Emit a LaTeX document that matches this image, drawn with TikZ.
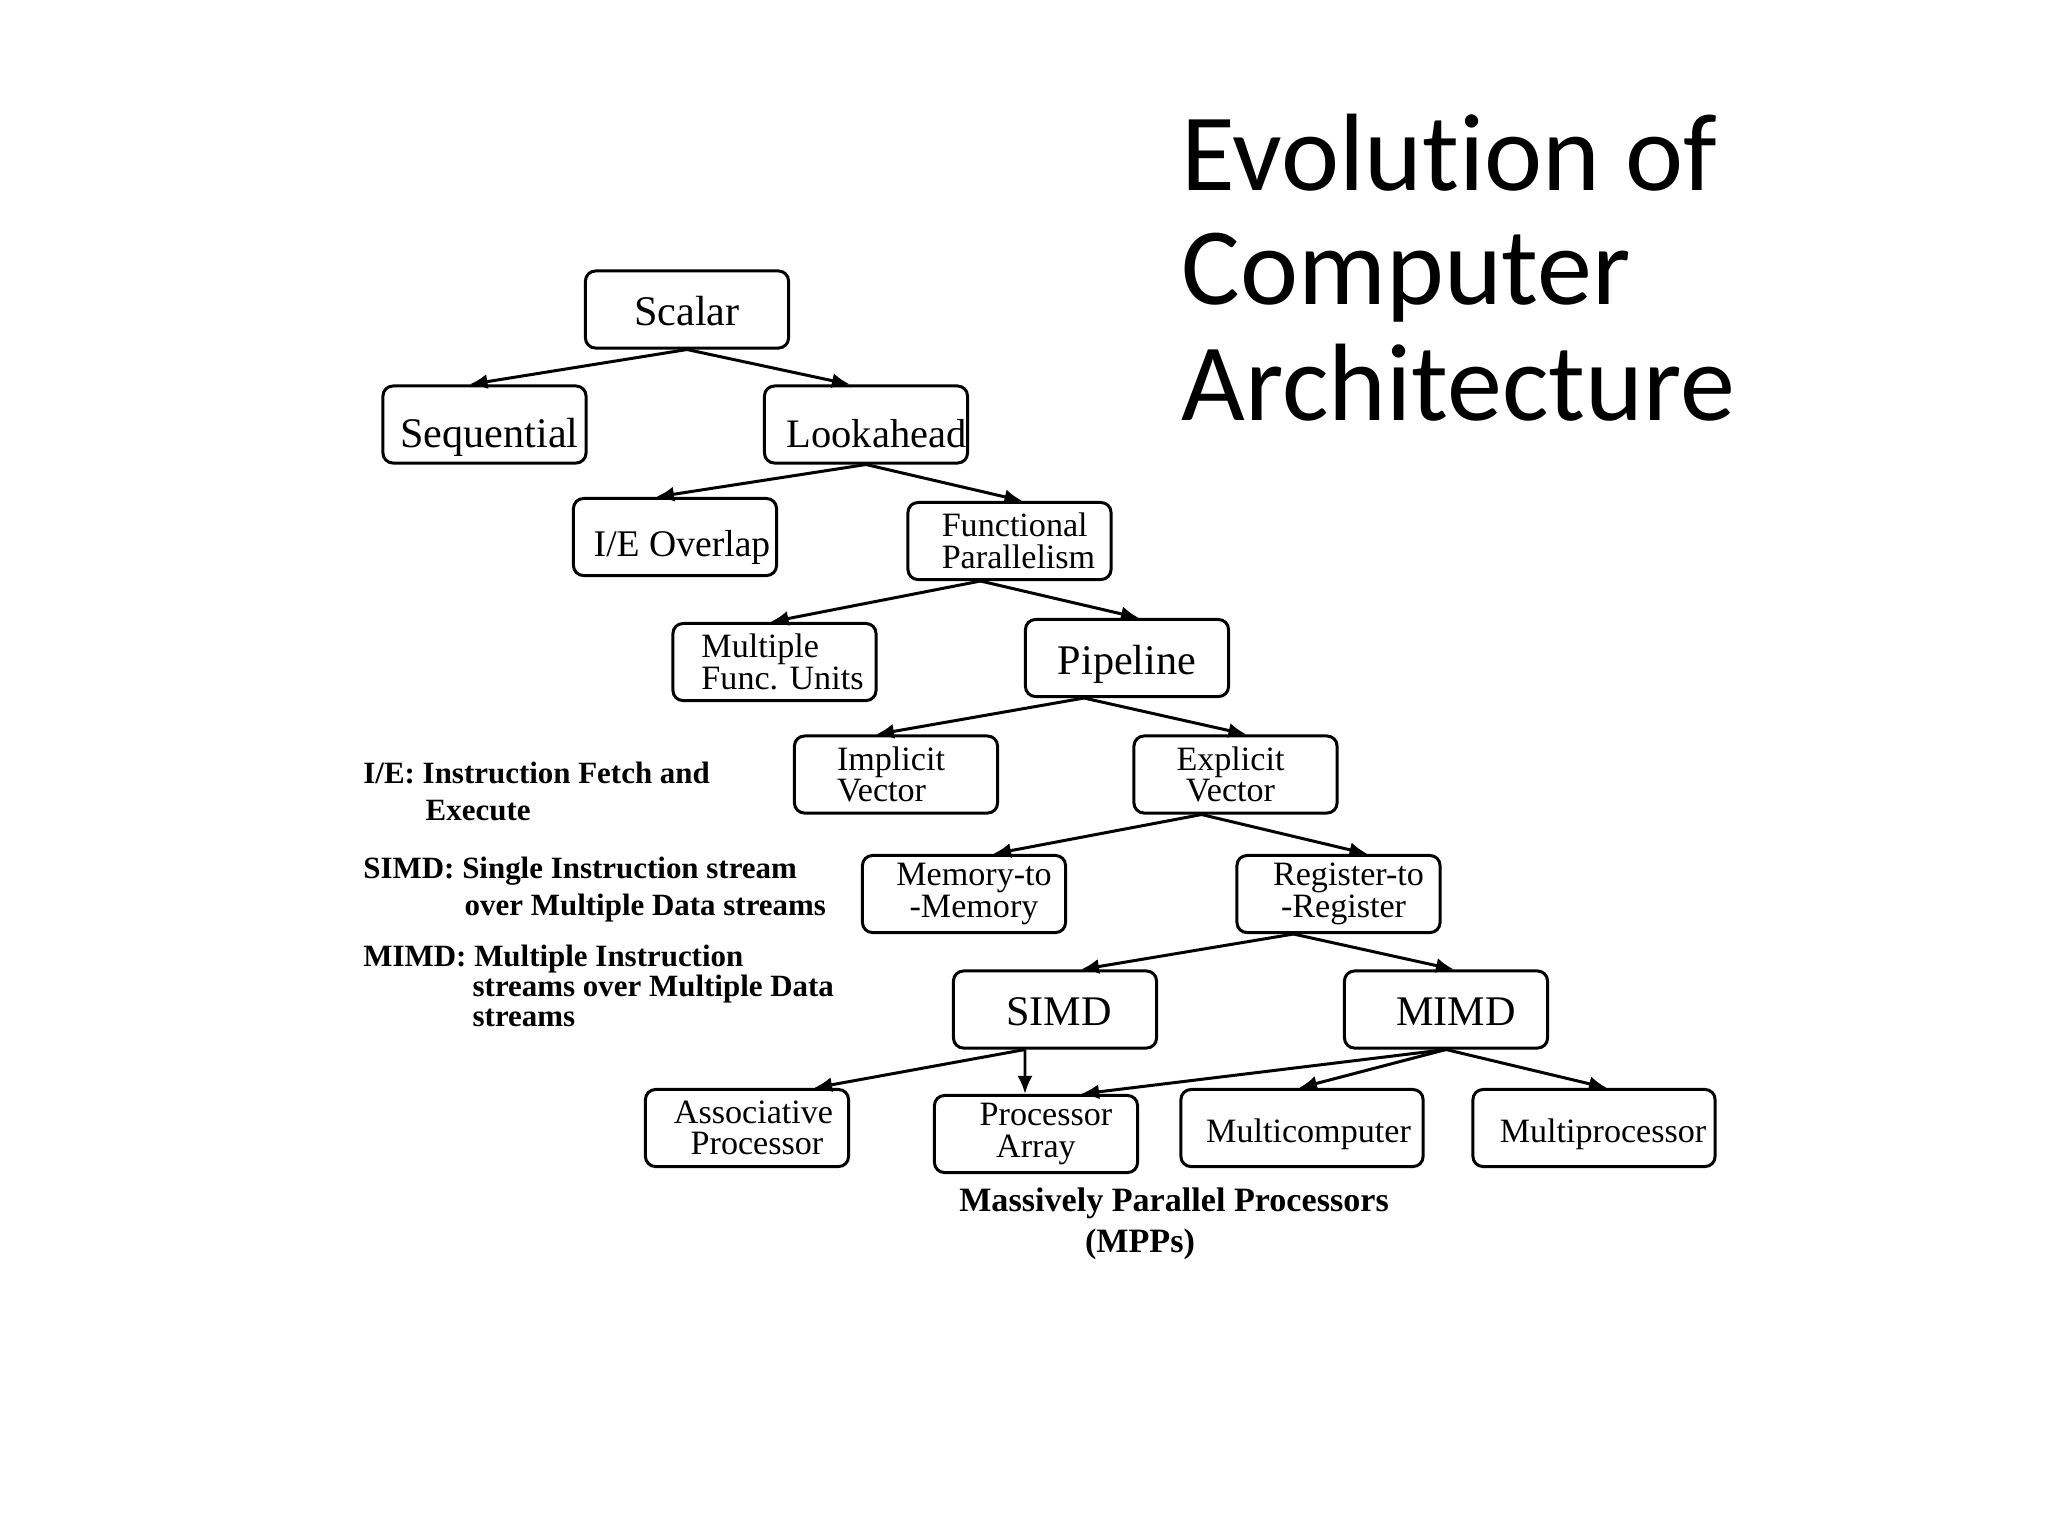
\documentclass[tikz,border=0pt]{standalone}
\usepackage{fontspec}
\setmainfont{Liberation Serif}
\newfontfamily\titlefont[Ligatures=NoCommon]{Carlito}
\usetikzlibrary{arrows.meta}

\tikzset{
	box/.style={shape=rectangle, rounded corners=0.1cm, draw=black, line width=0.85pt, minimum width=2.03cm, minimum height=0.77cm, inner sep=0pt, align=center},
	wide/.style={box, minimum width=2.42cm},
	big/.style={font=\fontsize{12}{13}\selectfont, text height=0.36cm, text depth=0.04cm},
	low/.style={text height=0.5cm, text depth=0.04cm},
	small/.style={font=\fontsize{9.7}{9}\selectfont},
	nudge/.style={execute at begin node={\hspace*{#1}}},
	arr/.style={-{Latex[length=0.18cm,width=0.15cm]}, line width=0.85pt},
	legend/.style={font=\bfseries\fontsize{8.8}{10}\selectfont, anchor=base west, inner sep=0pt},
	heading/.style={font=\titlefont\fontsize{31.3}{33}\selectfont, anchor=base west, inner sep=0pt},
	caption/.style={font=\bfseries\fontsize{9.7}{11}\selectfont, anchor=base, inner sep=0pt},
}

\begin{document}
\begin{tikzpicture}[x=0.01cm, y=-0.01cm]
	\useasboundingbox (0,0) rectangle (2048,1536);

	\node[heading] (title1) at (1181,190.7) {Evolution of};
	\node[heading] (title2) at (1181,304)   {Computer};
	\node[heading] (title3) at (1181,420.5) {Architecture};

	\node[box,big] (scalar) at (687,309.5)   {Scalar};
	\node[box,big,low,nudge=0.1cm] (seq) at (484.5,424.5) {Sequential};
	\node[box,big,low,nudge=0.21cm,font=\fontsize{11.5}{13}\selectfont] (look) at (866,424.5) {Lookahead};
	\node[box,font=\fontsize{10.7}{12}\selectfont,text height=0.42cm,text depth=0.04cm,nudge=0.14cm] (ieo) at (675,537) {I/E Overlap};
	\node[box,small,align=left] (func) at (1009.5,541) {\hspace*{0.18cm}Functional\\\hspace*{0.18cm}Parallelism};
	\node[box,small,align=left] (mfu)  at (774.5,662)  {\hspace*{0.16cm}Multiple\\\hspace*{0.16cm}Func. Units};
	\node[box,big] (pipe)   at (1127,658)    {Pipeline};
	\node[box,small,align=left] (impl) at (896,774.5)  {\hspace*{-0.1cm}Implicit\\\hspace*{-0.1cm}Vector};
	\node[box,small] (expl) at (1235.5,774.5) {\hspace*{-0.1cm}Explicit\\\hspace*{-0.1cm}Vector};
	\node[box,small] (mem)  at (964,894)      {\hspace*{0.2cm}Memory-to\\\hspace*{0.2cm}-Memory};
	\node[box,small] (reg)  at (1338.5,894)   {\hspace*{0.2cm}Register-to\\\hspace*{0.1cm}-Register};
	\node[box,big,nudge=0.08cm] (simd) at (1055,1009.5) {SIMD};
	\node[box,big,nudge=0.2cm]  (mimd) at (1446,1009.5) {MIMD};
	\node[box,small] (assoc) at (747,1128)   {\hspace*{0.13cm}Associative\\\hspace*{0.2cm}Processor};
	\node[box,small] (parr)  at (1036,1134)  {\hspace*{0.2cm}Processor\\Array};
	\node[wide,small,text height=0.32cm,text depth=0.04cm,nudge=0.13cm] (mcomp) at (1302,1128) {Multicomputer};
	\node[wide,small,text height=0.32cm,text depth=0.04cm,nudge=0.18cm] (mproc) at (1594,1128) {Multiprocessor};

	\path[arr] (scalar.south) edge ([xshift=-0.15cm]seq.north);
	\path[arr] (scalar.south) edge ([xshift=-0.16cm]look.north);
	\path[arr] (look.south) edge ([xshift=-0.19cm]ieo.north);
	\path[arr] (look.south) edge ([xshift=0.13cm]func.north);
	\path[arr] ([xshift=-0.29cm]func.south) edge ([xshift=-0.04cm]mfu.north);
	\path[arr] ([xshift=-0.29cm]func.south) edge ([xshift=0.12cm]pipe.north);
	\path[arr] ([xshift=-0.43cm]pipe.south) edge ([xshift=-0.20cm]impl.north);
	\path[arr] ([xshift=-0.43cm]pipe.south) edge ([xshift=0.11cm]expl.north);
	\path[arr] ([xshift=-0.34cm]expl.south) edge ([xshift=0.29cm]mem.north);
	\path[arr] ([xshift=-0.34cm]expl.south) edge ([xshift=0.29cm]reg.north);
	\path[arr] ([xshift=-0.45cm]reg.south) edge ([xshift=0.26cm]simd.north);
	\path[arr] ([xshift=-0.45cm]reg.south) edge ([xshift=0.08cm]mimd.north);
	\path[arr] ([xshift=-0.30cm]simd.south) edge ([xshift=0.67cm]assoc.north);
	\path[arr] ([xshift=-0.30cm]simd.south) edge ([xshift=-0.11cm]parr.north);
	\path[arr] (mimd.south) edge ([xshift=0.45cm]parr.north);
	\path[arr] (mimd.south) edge ([xshift=-0.03cm]mcomp.north);
	\path[arr] (mimd.south) edge ([xshift=0.13cm]mproc.north);

	\node[legend] (ie1)   at (362.7,783.3) {I/E: Instruction Fetch and};
	\node[legend] (ie2)   at (425,820.7)   {Execute};
	\node[legend] (simd1) at (362.7,878)   {SIMD: Single Instruction stream};
	\node[legend] (simd2) at (464,915)     {over Multiple Data streams};
	\node[legend] (mimd1) at (362.7,966.7) {MIMD: Multiple Instruction};
	\node[legend] (mimd2) at (472,996.7)   {streams over Multiple Data};
	\node[legend] (mimd3) at (472,1026)    {streams};

	\node[caption] (mpp1) at (1174,1211) {Massively Parallel Processors};
	\node[caption] (mpp2) at (1140,1252) {(MPPs)};
\end{tikzpicture}
\end{document}
